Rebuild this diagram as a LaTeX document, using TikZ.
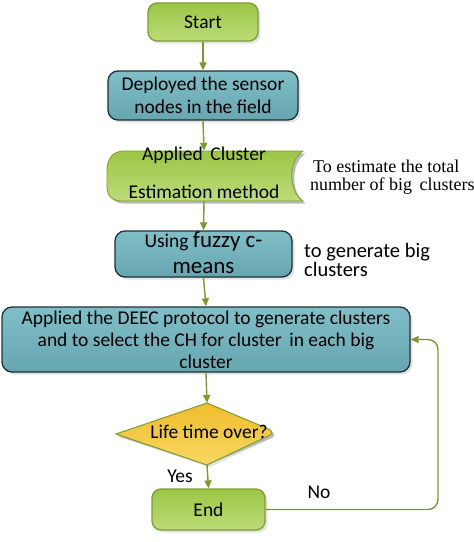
\documentclass[tikz,border=0pt]{standalone}
\usepackage{fontspec}
\setmainfont{Carlito}
\newfontfamily\notefont{Liberation Serif}
\usetikzlibrary{arrows.meta,shadows}
\definecolor{gfilltop}{HTML}{9CC646}
\definecolor{gfillbot}{HTML}{BCDC78}
\definecolor{gdraw}{HTML}{7D9C2F}
\definecolor{tfilltop}{HTML}{80BFC8}
\definecolor{tfillbot}{HTML}{66A6B0}
\definecolor{tdraw}{HTML}{1F2F33}
\definecolor{yfilltop}{HTML}{F0BC2C}
\definecolor{yfillbot}{HTML}{F7D862}
\definecolor{arrowc}{HTML}{7A9A2A}
\tikzset{
  shade/.style={drop shadow={opacity=0.22,shadow xshift=2.5pt,shadow yshift=-2.5pt}},
  greenbox/.style={rounded corners=9pt,draw=gdraw,line width=1.3pt,top color=gfilltop,bottom color=gfillbot,shade,align=center,inner sep=0pt},
  tealbox/.style={rounded corners=10pt,draw=tdraw,line width=1.3pt,top color=tfilltop,bottom color=tfillbot,shade,align=center,inner sep=0pt},
  conn/.style={draw=arrowc,line width=1.4pt,-{Triangle[width=7pt,length=8pt]}},
  lbl/.style={inner sep=0pt,font=\fontsize{19.5}{22}\selectfont},
  note/.style={inner sep=0pt,align=left,anchor=west},
}
\begin{document}
\begin{tikzpicture}[x=1pt,y=-1pt]
\useasboundingbox (0,0) rectangle (474,542);
% Start
\node[greenbox,minimum width=110pt,minimum height=38pt,font=\fontsize{19.5}{22}\selectfont] (start) at (203,22) {Start};
% Deployed
\node[tealbox,minimum width=190pt,minimum height=49pt,font=\fontsize{19.5}{23}\selectfont] (dep) at (203,95.5) {Deployed the sensor\\nodes in the field};
% Cluster estimation (document-like shape)
\fill[black,opacity=0.2,shift={(2.5,2.5)}] (303,151) -- (124,151) .. controls (112,151) and (107,160) .. (107,170) -- (107,186) .. controls (107,196) and (112,201) .. (122,201) -- (303,201) .. controls (289,192) and (287,162) .. (303,151) -- cycle;
\shade[top color=gfilltop,bottom color=gfillbot] (303,151) -- (124,151) .. controls (112,151) and (107,160) .. (107,170) -- (107,186) .. controls (107,196) and (112,201) .. (122,201) -- (303,201) .. controls (289,192) and (287,162) .. (303,151) -- cycle;
\draw[draw=gdraw,line width=0.8pt] (303,151) -- (124,151) .. controls (112,151) and (107,160) .. (107,170) -- (107,186) .. controls (107,196) and (112,201) .. (122,201) -- (303,201) .. controls (289,192) and (287,162) .. (303,151) -- cycle;
\node[minimum width=196pt,minimum height=50pt,inner sep=0pt] (est) at (204,176) {};
\node[lbl] (estA) at (204,155) {Applied\, Cluster};
\node[lbl] (estB) at (204,192) {Estimation method};
\node[note,font=\notefont\fontsize{18}{17.5}\selectfont] (estnote) at (310,177) {\hspace{3pt}To estimate the total\\number of big\, clusters};
% Fuzzy c-means
\node[tealbox,minimum width=177pt,minimum height=46pt] (fcm) at (203.5,254) {};
\node[lbl] (fcmA) at (203.5,241) {Using {\fontsize{23}{24}\selectfont fuzzy c-}};
\node[lbl,font=\fontsize{23}{24}\selectfont] (fcmB) at (203.5,268) {means};
\node[note,font=\fontsize{20.5}{16}\selectfont] (fcmnote) at (304,260) {to generate big\\clusters};
% DEEC
\node[tealbox,minimum width=408pt,minimum height=65pt,font=\fontsize{19.5}{22}\selectfont] (deec) at (206,339.5) {Applied the DEEC protocol to generate clusters\\and to select the CH for cluster\, in each big\\cluster};
% Decision diamond
\coordinate (dtop) at (207,403);
\coordinate (dbot) at (207,465);
\fill[black,opacity=0.2,shift={(2.5,2.5)}] (dtop) -- (116,434) -- (dbot) -- (266,437) .. controls (274,434) and (274,431) .. (266,428) -- cycle;
\shade[top color=yfilltop,bottom color=yfillbot] (dtop) -- (116,434) -- (dbot) -- (266,437) .. controls (274,434) and (274,431) .. (266,428) -- cycle;
\draw[draw=gdraw,line width=1pt] (dtop) -- (116,434) -- (dbot) -- (266,437) .. controls (274,434) and (274,431) .. (266,428) -- cycle;
\node[lbl] (life) at (209,432) {Life time over?};
% End
\node[greenbox,minimum width=113pt,minimum height=41pt,font=\fontsize{19.5}{22}\selectfont] (end) at (208.5,509.5) {End};
% Labels
\node[lbl] (yes) at (180,476) {Yes};
\node[lbl] (no) at (319,492) {No};
% Connectors
\draw[conn] (start.south) -- (dep.north);
\draw[conn] (dep.south) -- (est.north);
\draw[conn] (est.south) -- (fcm.north);
\draw[conn] (fcm.south) -- (deec.north);
\draw[conn] (deec.south) -- (dtop);
\draw[conn] (dbot) -- (end.north);
\coordinate (loopc) at (438,509.5);
\draw[conn,rounded corners=10pt] (end.east) -- (loopc) |- (deec.east);
\end{tikzpicture}
\end{document}
